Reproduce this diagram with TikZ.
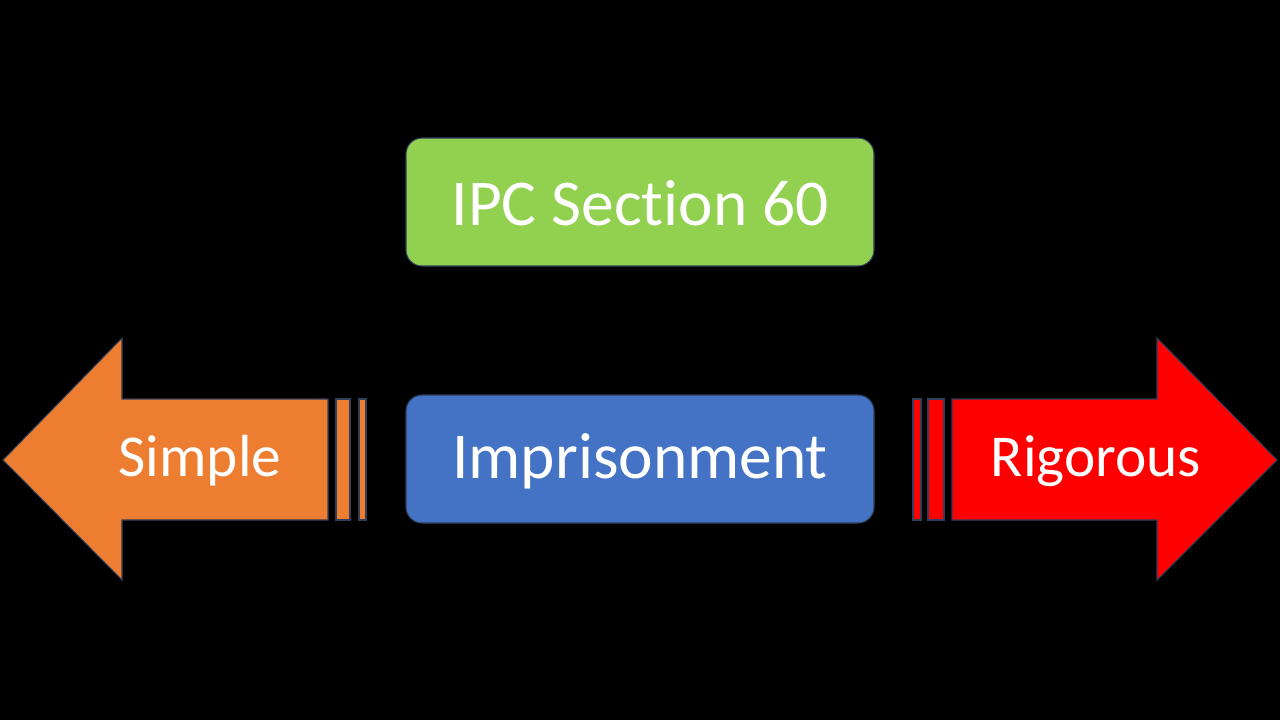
\documentclass[tikz,border=0pt]{standalone}
\usepackage{fontspec}
\setmainfont{Carlito}[Ligatures=CommonOff]
\definecolor{boxgreen}{RGB}{146,208,80}
\definecolor{boxblue}{RGB}{68,114,196}
\definecolor{arrorange}{RGB}{237,125,49}
\definecolor{arrred}{RGB}{255,0,0}
\definecolor{edgeblue}{RGB}{47,62,90}
\tikzset{
  slab/.style={draw=edgeblue, line width=0.3pt, rounded corners=1.6mm},
  arrpart/.style={draw=edgeblue, line width=0.3pt},
  bigtext/.style={text=white, font=\fontsize{18.6}{22}\selectfont},
  armtext/.style={text=white, font=\fontsize{16.9}{20}\selectfont}
}
\begin{document}
\begin{tikzpicture}[x=0.1mm, y=-0.1mm]

  % background, 1280 x 720
  \fill[black] (0,0) rectangle (1280,720);

  % top box
  \filldraw[slab, fill=boxgreen] (406,138) rectangle (874,266);
  \node[bigtext] (ipc) at (640,203) {IPC Section 60};

  % middle box
  \filldraw[slab, fill=boxblue] (406,395) rectangle (874,523);
  \node[bigtext] (imp) at (640,461) {Imprisonment};

  % left striped arrow
  \filldraw[arrpart, fill=arrorange] (3,460) -- (122,338) -- (122,399) -- (328,399)
    -- (328,520) -- (122,520) -- (122,580) -- cycle;
  \filldraw[arrpart, fill=arrorange] (336,399) rectangle (350,520);
  \filldraw[arrpart, fill=arrorange] (359,399) rectangle (366,520);
  \node[armtext] (simple) at (200,461) {Simple};

  % right striped arrow
  \filldraw[arrpart, fill=arrred] (1277,460) -- (1157,338) -- (1157,399) -- (952,399)
    -- (952,520) -- (1157,520) -- (1157,580) -- cycle;
  \filldraw[arrpart, fill=arrred] (928,399) rectangle (944,520);
  \filldraw[arrpart, fill=arrred] (913,399) rectangle (921,520);
  \node[armtext] (rig) at (1096,461) {Rigorous};

\end{tikzpicture}
\end{document}
